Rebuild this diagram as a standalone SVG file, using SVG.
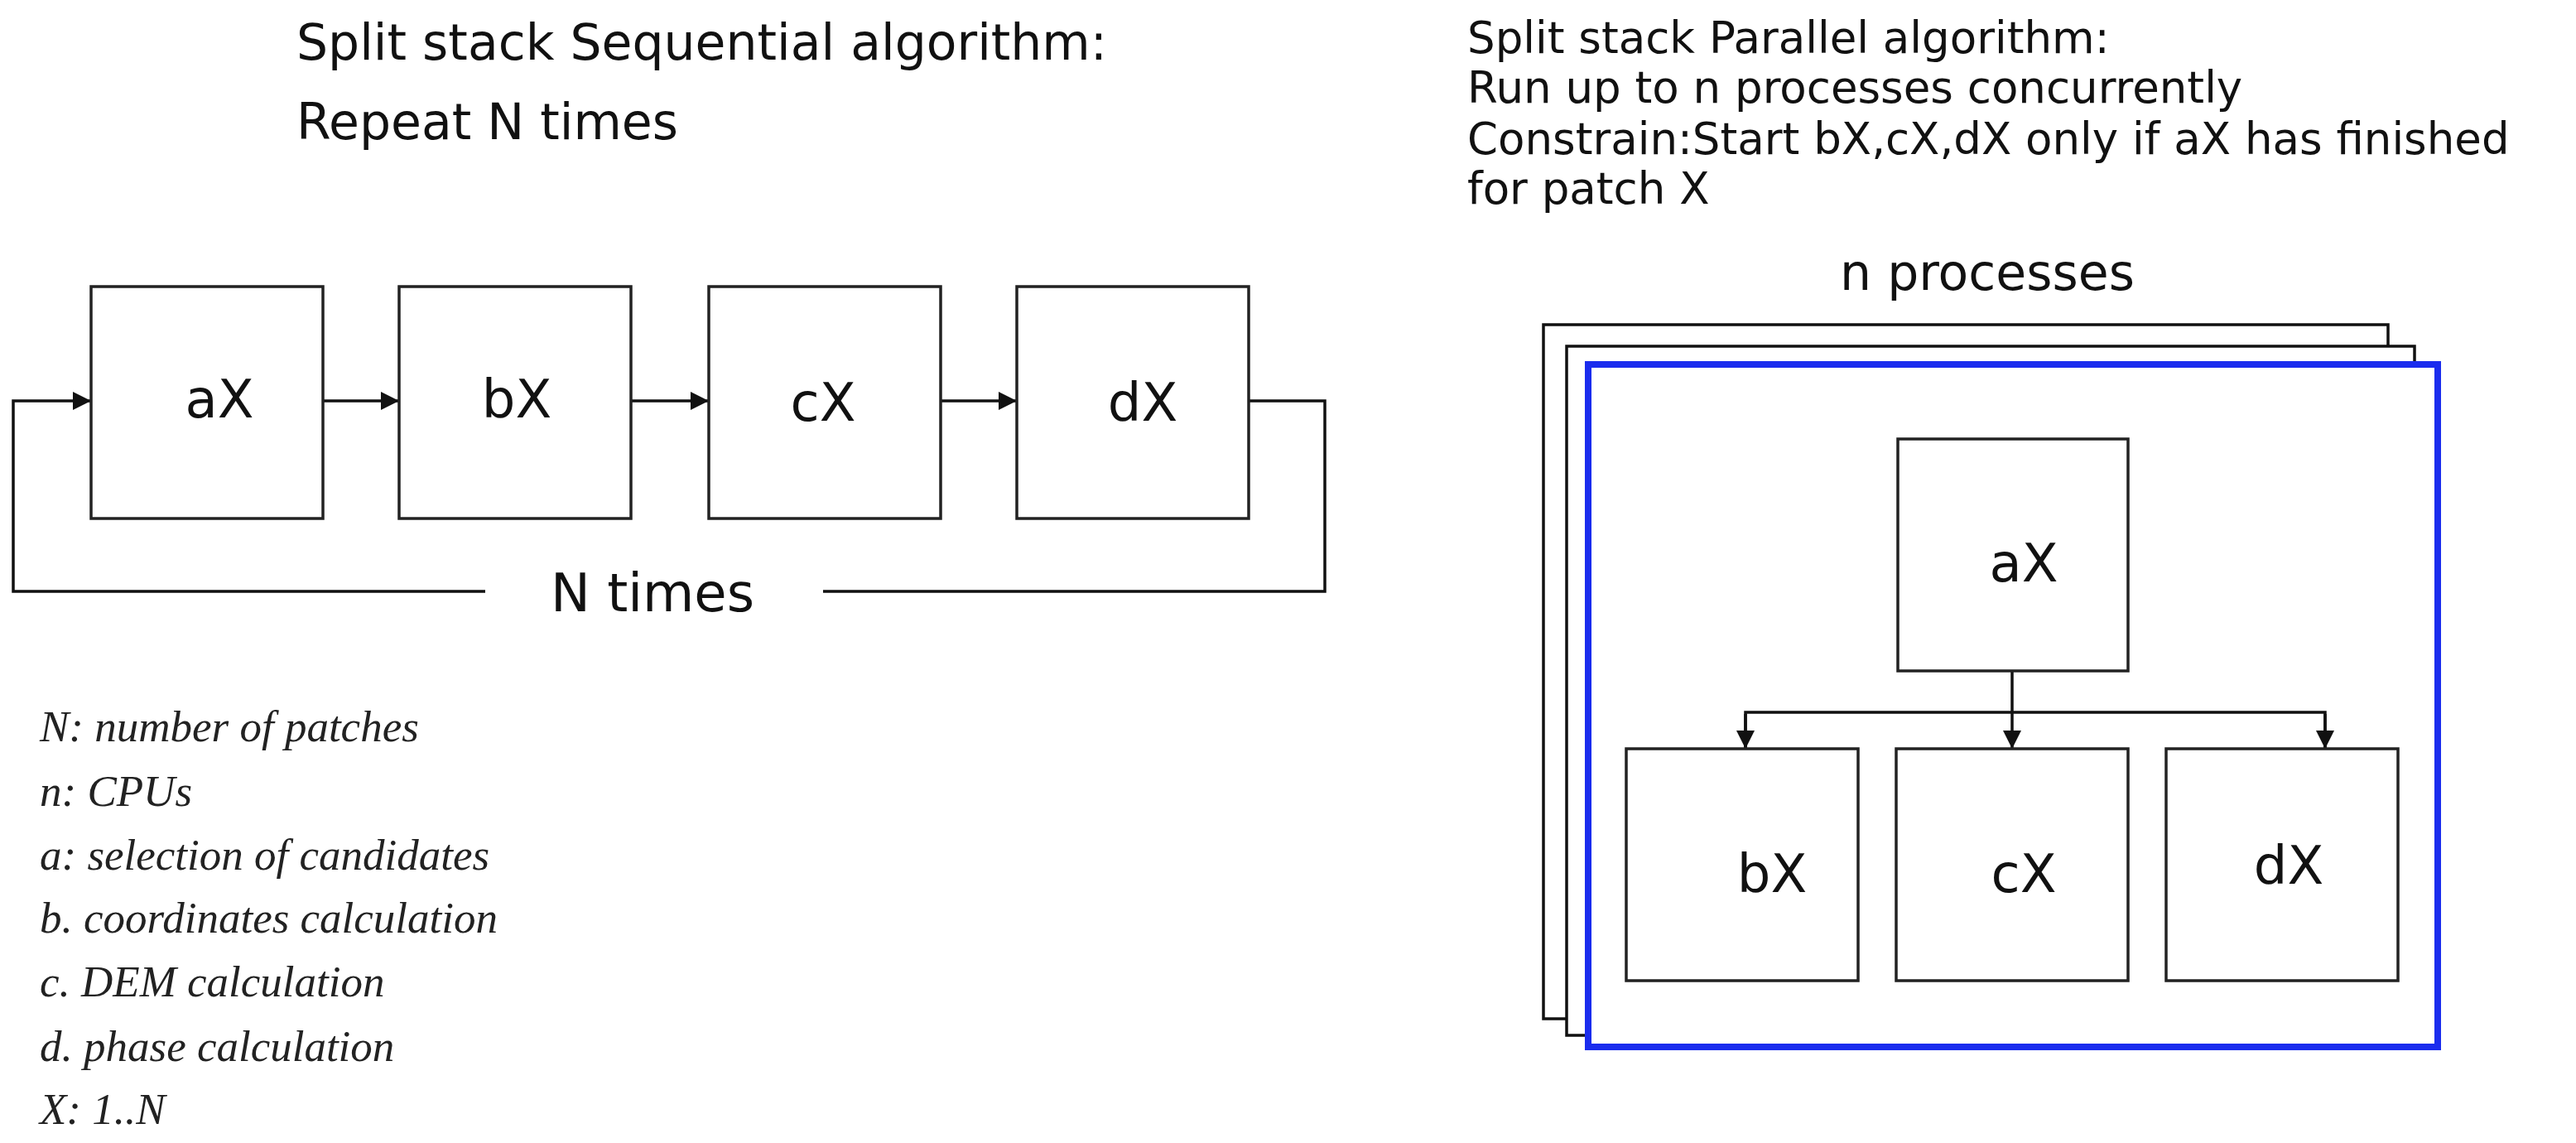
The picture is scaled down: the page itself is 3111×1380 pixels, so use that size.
<svg xmlns="http://www.w3.org/2000/svg" width="3111" height="1380" viewBox="0 0 3111 1380">
<style>
.t{font-family:"DejaVu Sans",sans-serif;fill:#111}
.lg{font-family:"Liberation Serif",serif;font-style:italic;font-size:53px;fill:#222}
.b{fill:#fff;stroke:#222;stroke-width:3.5}
.c{fill:none;stroke:#111;stroke-width:3.5}
.l{font-family:"DejaVu Sans",sans-serif;font-size:64px;fill:#111;text-anchor:middle}
</style>
<defs>
<marker id="ar2" viewBox="0 0 10 10" refX="10" refY="5" markerWidth="22" markerHeight="22" orient="auto" markerUnits="userSpaceOnUse">
<path d="M0,0 L10,5 L0,10 z" fill="#111"/>
</marker>
</defs>
<rect width="3111" height="1380" fill="#fff"/>
<text class="t" x="358" y="72" font-size="60">Split stack Sequential algorithm:</text>
<text class="t" x="358" y="168" font-size="60">Repeat N times</text>
<text class="t" x="1772" y="64" font-size="53">Split stack Parallel algorithm:</text>
<text class="t" x="1772" y="124" font-size="53">Run up to n processes concurrently</text>
<text class="t" x="1772" y="186" font-size="53">Constrain:Start bX,cX,dX only if aX has finished</text>
<text class="t" x="1772" y="246" font-size="53">for patch X</text>
<text class="t" x="2400" y="350" font-size="60" text-anchor="middle">n processes</text>
<g id="connectors">
<path class="c" d="M390,484 H482" marker-end="url(#ar2)"/>
<path class="c" d="M762,484 H856" marker-end="url(#ar2)"/>
<path class="c" d="M1136,484 H1228" marker-end="url(#ar2)"/>
<path class="c" d="M1508,484 H1600 V714 H994"/>
<path class="c" d="M586,714 H16 V484 H110" marker-end="url(#ar2)"/>
<text class="l" x="788" y="738" font-size="66">N times</text>
</g>
<g id="aX"><rect class="b" x="110" y="346" width="280" height="280"/><text class="l" x="265" y="504">aX</text></g>
<g id="bX"><rect class="b" x="482" y="346" width="280" height="280"/><text class="l" x="624" y="504">bX</text></g>
<g id="cX"><rect class="b" x="856" y="346" width="280" height="280"/><text class="l" x="994" y="508">cX</text></g>
<g id="dX"><rect class="b" x="1228" y="346" width="280" height="280"/><text class="l" x="1380" y="508">dX</text></g>
<g id="legend">
<text class="lg" x="48" y="895">N: number of patches</text>
<text class="lg" x="48" y="973">n: CPUs</text>
<text class="lg" x="48" y="1050">a: selection of candidates</text>
<text class="lg" x="48" y="1126">b. coordinates calculation</text>
<text class="lg" x="48" y="1203">c. DEM calculation</text>
<text class="lg" x="48" y="1281">d. phase calculation</text>
<text class="lg" x="48" y="1357">X: 1..N</text>
</g>
<g transform="translate(-12,0)">
<g id="stack">
<rect x="1876" y="392" width="1020" height="838" fill="#fff" stroke="#111" stroke-width="3.5"/>
<rect x="1904" y="418" width="1024" height="832" fill="#fff" stroke="#111" stroke-width="3.5"/>
<rect x="1930" y="440" width="1026" height="824" fill="#fff" stroke="#1a2cee" stroke-width="8"/>
</g>
<g id="connectors2">
<path class="c" d="M2442,810 V904" marker-end="url(#ar2)"/>
<path class="c" d="M2120,904 V860 H2820 V904"/>
<path class="c" d="M2120,862 V904" marker-end="url(#ar2)"/>
<path class="c" d="M2820,862 V904" marker-end="url(#ar2)"/>
</g>
<g id="paX"><rect class="b" x="2304" y="530" width="278" height="280"/><text class="l" x="2456" y="702">aX</text></g>
<g id="pbX"><rect class="b" x="1976" y="904" width="280" height="280"/><text class="l" x="2152" y="1077">bX</text></g>
<g id="pcX"><rect class="b" x="2302" y="904" width="280" height="280"/><text class="l" x="2456" y="1077">cX</text></g>
<g id="pdX"><rect class="b" x="2628" y="904" width="280" height="280"/><text class="l" x="2776" y="1067">dX</text></g>
</g>
</svg>
